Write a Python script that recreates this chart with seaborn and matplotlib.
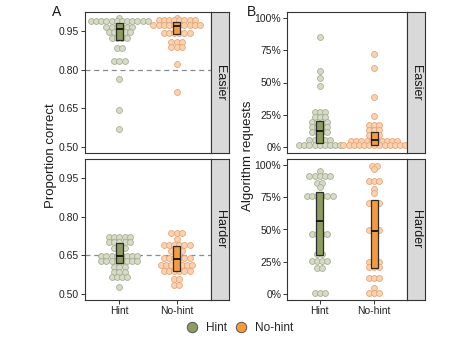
import numpy as np
import pandas as pd
import matplotlib
matplotlib.use("Agg")
import matplotlib.pyplot as plt
from matplotlib.lines import Line2D
import seaborn as sns

sns.set_style("white")
plt.rcParams["font.family"] = ["Liberation Sans", "DejaVu Sans"]

# ---------------- data ----------------
conditions = ["Hint", "No-hint"]
difficulties = ["Easier", "Harder"]

# Proportion correct
acc_easier_hint = [1.0] + [0.99] * 12 + [0.968] * 6 + [0.947] * 5 + [0.924] * 4 + [0.883] * 2 + [0.834] * 3 + [0.763, 0.642, 0.568]
acc_easier_nohint = [1.0] + [0.992] * 8 + [0.975] * 10 + [0.943] * 6 + [0.908] * 3 + [0.89] * 3 + [0.823, 0.714]
acc_harder_hint = [0.72] * 5 + [0.70] * 5 + [0.679] * 3 + [0.648] * 8 + [0.626] * 8 + [0.603] * 3 + [0.583] * 3 + [0.564] * 4 + [0.524]
acc_harder_nohint = [0.735] * 3 + [0.714] + [0.69] * 6 + [0.668] * 3 + [0.638] * 6 + [0.613] * 7 + [0.588] * 6 + [0.555] * 2 + [0.535] * 2

# Algorithm requests (proportion)
req_easier_hint = [0.856, 0.586, 0.537, 0.469] + [0.272] * 3 + [0.232] * 3 + [0.19] * 4 + [0.15] * 4 + [0.11] * 4 + [0.055] * 5 + [0.012] * 9
req_easier_nohint = [0.725, 0.612, 0.385, 0.235] + [0.17] * 3 + [0.13] * 3 + [0.088] * 3 + [0.045] * 10 + [0.012] * 13
req_harder_hint = [0.956] + [0.921] * 5 + [0.865] * 2 + [0.83] + [0.765] * 6 + [0.57] + [0.465] * 4 + [0.31] * 2 + [0.257] * 4 + [0.2] * 2 + [0.005] * 3
req_harder_nohint = [0.995] * 2 + [0.972] + [0.882] * 3 + [0.814] + [0.787] + [0.709] * 3 + [0.499] * 3 + [0.394] + [0.25] * 3 + [0.204] * 3 + [0.118] * 3 + [0.045] + [0.008] * 3

# box summaries (q1, median, q3)
box_acc_easier = {"q1": [0.916, 0.938], "med": [0.96, 0.971], "q3": [0.984, 0.986]}
box_acc_harder = {"q1": [0.620, 0.588], "med": [0.646, 0.633], "q3": [0.698, 0.685]}
box_req_easier = {"q1": [0.03, 0.013], "med": [0.123, 0.048], "q3": [0.196, 0.115]}
box_req_harder = {"q1": [0.30, 0.20], "med": [0.57, 0.49], "q3": [0.79, 0.73]}

ref_acc = {"Easier": 0.80, "Harder": 0.65}

acc_ticks = [0.50, 0.65, 0.80, 0.95]
acc_ticklabels = ["0.50", "0.65", "0.80", "0.95"]
req_ticks = [0.0, 0.25, 0.5, 0.75, 1.0]
req_ticklabels = ["0%", "25%", "50%", "75%", "100%"]

# ---------------- styling ----------------
dot_face = {"Hint": "#d5dbc4", "No-hint": "#fbd2b0"}
dot_edge = {"Hint": "#a9af97", "No-hint": "#e7a57a"}
box_face = {"Hint": "#8d9c60", "No-hint": "#f59a3e"}
legend_face = {"Hint": "#8d9c60", "No-hint": "#f5993a"}
dark = "#333333"

W, H = 474, 338
fig = plt.figure(figsize=(W / 100, H / 100), dpi=100)


def ax_px(x0, y0, x1, y1):
    return fig.add_axes([x0 / W, 1 - y1 / H, (x1 - x0) / W, (y1 - y0) / H])


def dot_positions(values, center, spacing):
    vals = np.asarray(values, dtype=float)
    xs = np.zeros_like(vals)
    for u in np.unique(vals):
        idx = np.where(vals == u)[0]
        n = len(idx)
        xs[idx] = center + (np.arange(n) - (n - 1) / 2) * spacing
    return xs


def draw_panel(ax, groups, box, ylim, ticks, ticklabels, show_x, spacing, ref=None):
    ax.set_xlim(0.4, 2.6)
    ax.set_ylim(*ylim)
    if ref is not None:
        ax.axhline(ref, color="#8a8a8a", lw=0.9, ls=(0, (4, 3)), zorder=1)
    for i, (cond, vals) in enumerate(zip(conditions, groups)):
        pos = i + 1
        xs = dot_positions(vals, pos, spacing)
        df = pd.DataFrame({"x": xs, "y": vals})
        sns.scatterplot(data=df, x="x", y="y", ax=ax, s=18, color=dot_face[cond],
                        edgecolor=dot_edge[cond], linewidth=0.6, legend=False, zorder=2)
        ax.bar(pos, box["q3"][i] - box["q1"][i], bottom=box["q1"][i], width=0.12,
               color=box_face[cond], edgecolor="#2b2b2b", linewidth=0.9, zorder=3)
        ax.hlines(box["med"][i], pos - 0.06, pos + 0.06, color="#111111", lw=1.3, zorder=4)
    ax.set_xlabel("")
    ax.set_ylabel("")
    ax.set_yticks(ticks)
    ax.set_yticklabels(ticklabels, fontsize=7.5, color="#222222")
    ax.set_xticks([1, 2])
    if show_x:
        ax.set_xticklabels(conditions, fontsize=7.5, color="#222222")
        ax.tick_params(axis="x", length=3, width=0.7, color=dark, pad=1.5, bottom=True)
    else:
        ax.set_xticklabels([])
        ax.tick_params(axis="x", length=0)
    ax.tick_params(axis="y", length=3, width=0.7, color=dark, pad=1.2, left=True)
    for sp in ax.spines.values():
        sp.set_visible(True)
        sp.set_color(dark)
        sp.set_linewidth(0.8)
    ax.set_facecolor("white")


def draw_strip(ax, label):
    ax.set_facecolor("#d9d9d9")
    ax.set_xticks([])
    ax.set_yticks([])
    for sp in ax.spines.values():
        sp.set_visible(True)
        sp.set_color(dark)
        sp.set_linewidth(0.8)
    ax.text(0.5, 0.5, label, rotation=270, ha="center", va="center", fontsize=9,
            color="#1a1a1a", transform=ax.transAxes)


# panel geometry (pixels)
rows = [(12, 153), (159, 300)]
colA = (85, 211, 229)
colB = (287, 407, 425)

spacingA = 5.15 / (126 / 2.2)
spacingB = 5.15 / (120 / 2.2)

acc_groups = {"Easier": [acc_easier_hint, acc_easier_nohint],
              "Harder": [acc_harder_hint, acc_harder_nohint]}
req_groups = {"Easier": [req_easier_hint, req_easier_nohint],
              "Harder": [req_harder_hint, req_harder_nohint]}
acc_boxes = {"Easier": box_acc_easier, "Harder": box_acc_harder}
req_boxes = {"Easier": box_req_easier, "Harder": box_req_harder}

for r, diff in enumerate(difficulties):
    y0, y1 = rows[r]
    axA = ax_px(colA[0], y0, colA[1], y1)
    draw_panel(axA, acc_groups[diff], acc_boxes[diff], (0.475, 1.025), acc_ticks,
               acc_ticklabels, r == 1, spacingA, ref=ref_acc[diff])
    draw_strip(ax_px(colA[1], y0, colA[2], y1), diff)

    axB = ax_px(colB[0], y0, colB[1], y1)
    draw_panel(axB, req_groups[diff], req_boxes[diff], (-0.05, 1.05), req_ticks,
               req_ticklabels, r == 1, spacingB)
    draw_strip(ax_px(colB[1], y0, colB[2], y1), diff)

# axis titles and panel letters
fig.text(51 / W, 1 - 156 / H, "Proportion correct", rotation=90, ha="center", va="center",
         fontsize=9.5, color="#1a1a1a")
fig.text(248 / W, 1 - 156 / H, "Algorithm requests", rotation=90, ha="center", va="center",
         fontsize=9.5, color="#1a1a1a")
fig.text(57 / W, 1 - 12 / H, "A", ha="center", va="center", fontsize=10, color="#1a1a1a")
fig.text(251 / W, 1 - 12 / H, "B", ha="center", va="center", fontsize=10, color="#1a1a1a")

handles = [Line2D([0], [0], marker="o", ls="none", markersize=7.5,
                  markerfacecolor=legend_face[c], markeredgecolor="#555555",
                  markeredgewidth=0.7, label=c) for c in conditions]
fig.legend(handles=handles, loc="center", bbox_to_anchor=(239 / W, 1 - 328 / H), ncol=2,
           frameon=False, fontsize=8.5, handletextpad=0.6, columnspacing=0.6,
           handlelength=1.2)

fig.savefig("out.png", dpi=100)
